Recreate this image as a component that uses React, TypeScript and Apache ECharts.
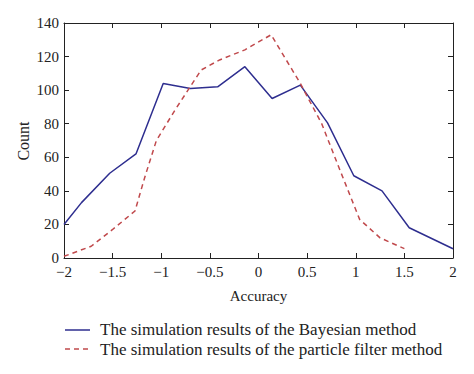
import React, { useEffect, useRef } from "react";
import * as echarts from "echarts";

const bayesX = [-2, -1.82, -1.53, -1.26, -0.98, -0.7, -0.42, -0.14, 0.14, 0.43, 0.71, 0.98, 1.27, 1.55, 2];
const bayesY = [20, 33, 50.5, 62, 104, 101, 102, 114, 95, 103, 80.5, 49, 40, 18, 5.5];
const pfX = [-2, -1.72, -1.5, -1.27, -1.17, -1.05, -0.86, -0.59, -0.4, -0.14, 0.13, 0.43, 0.65, 0.84, 1.04, 1.25, 1.5];
const pfY = [1, 7, 17, 28, 48, 70, 88, 112, 118, 124, 133, 104, 80, 52, 23, 12, 5.6];
const seriesNames = [
  "The simulation results of the Bayesian method",
  "The simulation results of the particle filter method",
];
const yTitle = "Count";

const FONT = "Liberation Serif";
const BLUE = "#2e2e8f";
const RED = "#c0494c";

export default function App() {
  const ref = useRef<HTMLDivElement>(null);
  useEffect(() => {
    if (!ref.current) return;
    const chart = echarts.init(ref.current, undefined, { renderer: "svg" });
    const fmtX = (v: number) => (v < 0 ? "\u2212" + Math.abs(v) : String(v));
    const axisCommon = {
      axisLine: { show: true, onZero: false, lineStyle: { color: "#222", width: 1 } },
      axisTick: { show: true, inside: true, length: 5, lineStyle: { color: "#222" } },
      splitLine: { show: false },
    };
    chart.setOption({
      animation: false,
      backgroundColor: "#fff",
      textStyle: { fontFamily: FONT },
      grid: { left: 64, right: 21, top: 23, bottom: 116 },
      xAxis: [
        {
          type: "value",
          min: -2,
          max: 2,
          interval: 0.5,
          position: "bottom",
          name: "Accuracy",
          nameLocation: "middle",
          nameGap: 30,
          nameTextStyle: { fontFamily: FONT, fontSize: 15, color: "#222" },
          axisLabel: { formatter: fmtX, fontFamily: FONT, fontSize: 15, color: "#222", margin: 6 },
          ...axisCommon,
        },
        {
          type: "value",
          min: -2,
          max: 2,
          interval: 0.5,
          position: "top",
          axisLabel: { show: false },
          ...axisCommon,
        },
      ],
      yAxis: [
        {
          type: "value",
          min: 0,
          max: 140,
          interval: 20,
          position: "left",
          axisLabel: { fontFamily: FONT, fontSize: 15, color: "#222", margin: 5 },
          ...axisCommon,
        },
        {
          type: "value",
          min: 0,
          max: 140,
          interval: 20,
          position: "right",
          axisLabel: { show: false },
          ...axisCommon,
        },
      ],
      graphic: [
        {
          type: "text",
          x: 23,
          y: 141,
          rotation: Math.PI / 2,
          style: {
            text: yTitle,
            fontFamily: FONT,
            fontSize: 16,
            fill: "#222",
            align: "center",
            verticalAlign: "middle",
          },
        },
        { type: "line", shape: { x1: 65, y1: 330, x2: 90, y2: 330 }, style: { stroke: BLUE, lineWidth: 1.5 } },
        { type: "line", shape: { x1: 65, y1: 349, x2: 90, y2: 349 }, style: { stroke: RED, lineWidth: 1.5, lineDash: [5, 4] } },
        {
          type: "text",
          x: 100,
          y: 329,
          style: { text: seriesNames[0], fontFamily: FONT, fontSize: 17, fill: "#222", verticalAlign: "middle" },
        },
        {
          type: "text",
          x: 100,
          y: 349,
          style: { text: seriesNames[1], fontFamily: FONT, fontSize: 17, fill: "#222", verticalAlign: "middle" },
        },
      ],
      series: [
        {
          name: seriesNames[0],
          type: "line",
          data: bayesX.map((x, i) => [x, bayesY[i]]),
          showSymbol: false,
          symbol: "none",
          lineStyle: { color: BLUE, width: 1.5 },
          itemStyle: { color: BLUE },
        },
        {
          name: seriesNames[1],
          type: "line",
          data: pfX.map((x, i) => [x, pfY[i]]),
          showSymbol: false,
          symbol: "none",
          lineStyle: { color: RED, width: 1.5, type: [5, 4] },
          itemStyle: { color: RED },
        },
      ],
    });
    return () => chart.dispose();
  }, []);
  return <div ref={ref} style={{ width: 474, height: 374, margin: -8 }} />;
}
